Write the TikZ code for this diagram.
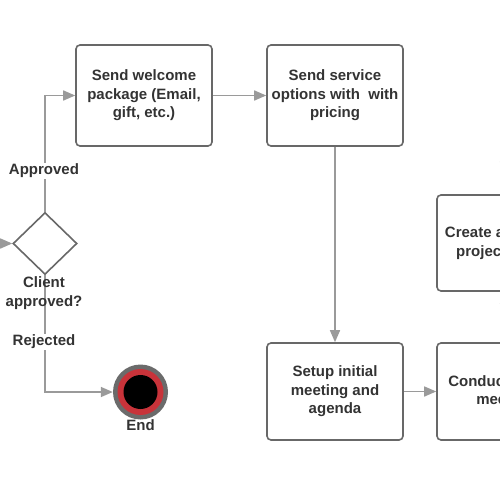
\documentclass[tikz,border=0pt]{standalone}
\usepackage{fontspec}
\setmainfont{Liberation Sans}
\usetikzlibrary{arrows.meta,shapes.geometric}
\definecolor{boxline}{HTML}{686868}
\definecolor{conn}{HTML}{9A9A9A}
\definecolor{txt}{HTML}{333333}
\definecolor{endred}{HTML}{C8333A}
\definecolor{endgray}{HTML}{6B6B6B}
\begin{document}
\begin{tikzpicture}[x=1pt,y=-1pt,
  stepbox/.style={draw=boxline,line width=1.6pt,rounded corners=4pt,fill=white,
    minimum width=136pt,minimum height=101pt,inner sep=2pt,align=center,
    text=txt,font=\bfseries\fontsize{15}{18.5}\selectfont},
  decision/.style={diamond,draw=boxline,line width=1.6pt,fill=white,
    minimum width=64pt,minimum height=62pt,inner sep=0pt},
  lbl/.style={text=txt,font=\bfseries\fontsize{15}{18.5}\selectfont,align=center,inner sep=1pt},
  flow/.style={draw=conn,line width=1.5pt,-{Triangle[length=12pt,width=10pt]}},
  plain/.style={draw=conn,line width=1.5pt}]
\useasboundingbox (0,0) rectangle (500,500);
\clip (0,0) rectangle (500,500);
\fill[white] (0,0) rectangle (500,500);

\node[stepbox] (welcome) at (144,95.5) {Send welcome\\package (Email,\\gift, etc.)};
\node[stepbox] (service) at (335,95.5) {Send service\\options with\ \ with\\pricing};
\node[stepbox,minimum height=97pt] (setup) at (335,391.5) {Setup initial\\meeting and\\agenda};
\node[stepbox,minimum height=97pt] (conduct) at (505,391.5) {Conduct kickoff\\meeting};
\node[stepbox,minimum height=96pt] (create) at (505,243) {Create a detailed\\project scope};
\node[decision] (dec) at (45,243.5) {};
\coordinate (in) at (-2,243.5);
\coordinate (above) at (505,150);

% end event
\node[circle,fill=endgray,minimum size=55pt,inner sep=0pt] (endev) at (140.5,392) {};
\fill[endred] (endev.center) circle[radius=23pt];
\fill[black] (endev.center) circle[radius=17pt];
\node[lbl] (endlbl) at (140.5,425) {End};

% connectors
\draw[flow] (in) -- (dec.west);
\draw[flow] (dec.north) |- (welcome.west);
\draw[flow] (welcome.east) -- (service.west);
\draw[flow] (service.south) -- (setup.north);
\draw[flow] (setup.east) -- (conduct.west);
\draw[flow] (conduct.north) -- (create.south);
\draw[flow] (create.north) -- (above);
\draw[flow] (dec.south) |- (endev.west);

\node[lbl,fill=white] (appr) at (44,171) {Approved};
\node[lbl,fill=white] (rej) at (44,342) {Rejected};
\node[lbl] (q) at (44,293) {Client\\approved?};
\end{tikzpicture}
\end{document}
